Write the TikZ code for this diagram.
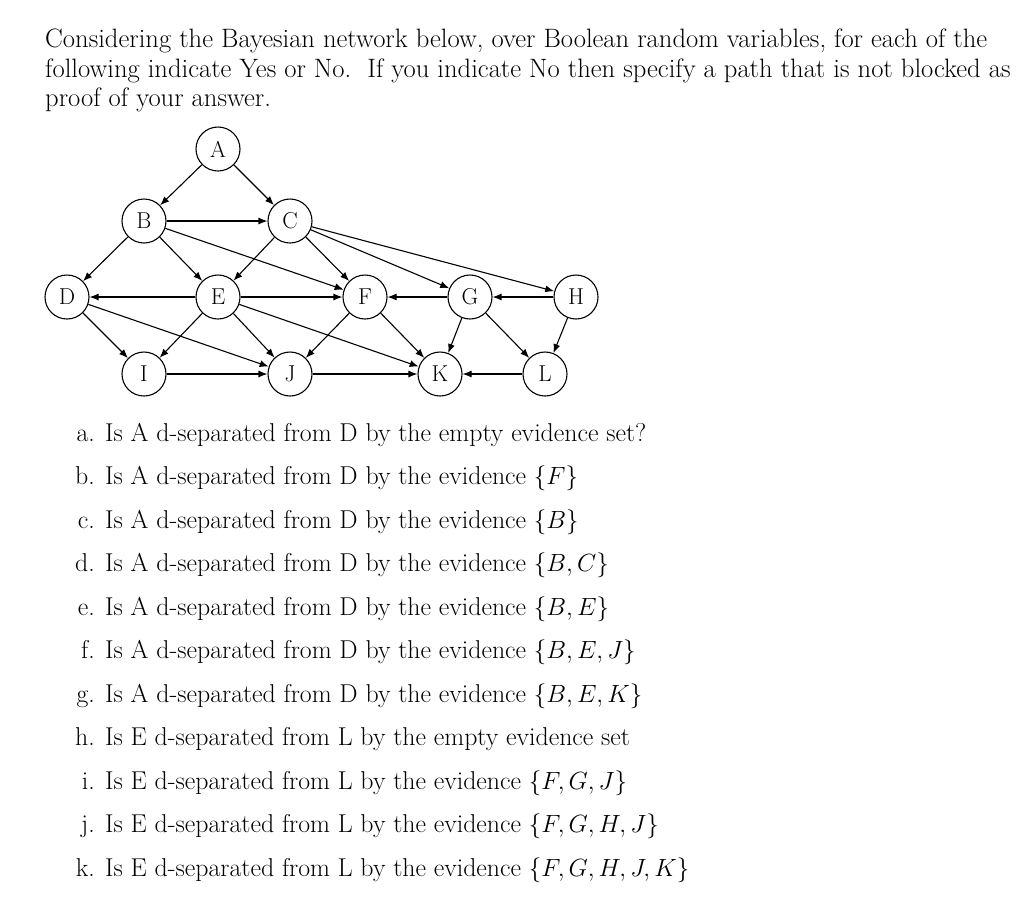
\documentclass[tikz,border=0pt]{standalone}
\usetikzlibrary{arrows.meta}
\begin{document}
\begin{tikzpicture}[x=1pt,y=-1pt,
  v/.style={circle,draw,line width=1.1pt,minimum size=44pt,inner sep=0pt,font=\fontsize{23}{23}\selectfont},
  e/.style={-{Latex[length=9pt,width=7pt]},line width=1.1pt},
  txt/.style={anchor=base west,inner sep=0pt,font=\fontsize{26.6}{30}\selectfont},
  itm/.style={anchor=base west,inner sep=0pt,font=\fontsize{25.8}{30}\selectfont},
  lab/.style={anchor=base east,inner sep=0pt,font=\fontsize{25.8}{30}\selectfont}]
\useasboundingbox (0,0) rectangle (1024,914);
\node[txt] (t1) at (45,47) {Considering the Bayesian network below, over Boolean random variables, for each of the};
\node[txt] (t2) at (45,77) {following indicate Yes or No.\ \ If you indicate No then specify a path that is not blocked as};
\node[txt] (t3) at (45,106) {proof of your answer.};
\node[v] (A) at (218,149) {A};
\node[v] (B) at (144,221) {B};
\node[v] (C) at (290,221) {C};
\node[v] (D) at (67,297) {D};
\node[v] (E) at (218,297) {E};
\node[v] (F) at (365,297) {F};
\node[v] (G) at (470,297) {G};
\node[v] (H) at (576,297) {H};
\node[v] (I) at (144,374) {I};
\node[v] (J) at (290,374) {J};
\node[v] (K) at (440,374) {K};
\node[v] (L) at (545,374) {L};
\foreach \a/\b in {A/B,A/C,B/C,B/D,B/E,B/F,C/E,C/F,C/G,C/H,E/D,E/F,G/F,H/G,D/I,D/J,E/I,E/J,E/K,F/J,F/K,G/K,G/L,H/L,I/J,J/K,L/K}
  \draw[e] (\a) -- (\b);
\foreach \l/\t [count=\i from 0] in {
 a./{Is A d-separated from D by the empty evidence set?},
 b./{Is A d-separated from D by the evidence $\{F\}$},
 c./{Is A d-separated from D by the evidence $\{B\}$},
 d./{Is A d-separated from D by the evidence $\{B,C\}$},
 e./{Is A d-separated from D by the evidence $\{B,E\}$},
 f./{Is A d-separated from D by the evidence $\{B,E,J\}$},
 g./{Is A d-separated from D by the evidence $\{B,E,K\}$},
 h./{Is E d-separated from L by the empty evidence set},
 i./{Is E d-separated from L by the evidence $\{F,G,J\}$},
 j./{Is E d-separated from L by the evidence $\{F,G,H,J\}$},
 k./{Is E d-separated from L by the evidence $\{F,G,H,J,K\}$}}
{
 \node[lab] (l\i) at (95,441+43.5*\i) {\l};
 \node[itm] (q\i) at (105,441+43.5*\i) {\t};
}
\end{tikzpicture}
\end{document}
